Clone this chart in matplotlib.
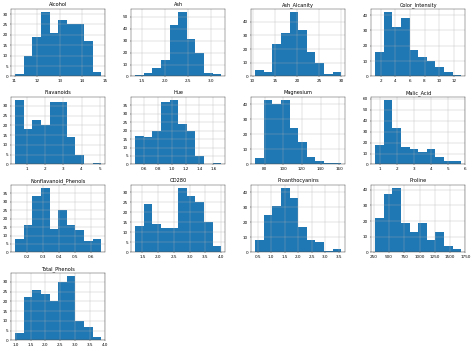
import numpy as np
import matplotlib
matplotlib.use('Agg')
import matplotlib.pyplot as plt

# Wine dataset, 10-bin histograms per feature (min, max, counts)
names = ['Alcohol', 'Ash', 'Ash_Alcanity', 'Color_Intensity',
         'Flavanoids', 'Hue', 'Magnesium', 'Malic_Acid',
         'Nonflavanoid_Phenols', 'OD280', 'Proanthocyanins', 'Proline',
         'Total_Phenols']

mins = [11.03, 1.36, 10.6, 1.28, 0.34, 0.48, 70, 0.74, 0.13, 1.27, 0.41, 278, 0.98]
maxs = [14.83, 3.23, 30.0, 13.0, 5.08, 1.71, 162, 5.80, 0.66, 4.00, 3.58, 1680, 3.88]

counts = [
    [1, 10, 19, 31, 21, 27, 25, 25, 17, 2],
    [1, 3, 7, 14, 43, 54, 31, 20, 3, 2],
    [5, 3, 24, 32, 47, 34, 18, 10, 2, 3],
    [16, 42, 32, 38, 17, 13, 10, 6, 3, 1],
    [33, 18, 23, 20, 32, 32, 14, 5, 0, 1],
    [17, 16, 20, 37, 38, 24, 20, 5, 0, 1],
    [4, 43, 40, 43, 24, 15, 5, 2, 1, 1],
    [18, 59, 33, 16, 14, 11, 14, 7, 3, 3],
    [8, 16, 33, 38, 14, 25, 16, 13, 7, 8],
    [13, 24, 14, 12, 12, 32, 28, 25, 15, 3],
    [8, 25, 31, 43, 36, 17, 8, 7, 1, 2],
    [22, 37, 41, 19, 13, 19, 8, 13, 4, 2],
    [4, 22, 26, 24, 20, 30, 33, 10, 7, 2],
]

fig, axes = plt.subplots(4, 4, figsize=(15.8, 11.7), dpi=30)
fig.subplots_adjust(left=0.023, right=0.982, top=0.975, bottom=0.03,
                    wspace=0.27, hspace=0.3)

for i, ax in enumerate(axes.flat):
    if i >= len(names):
        ax.set_visible(False)
        continue
    edges = np.linspace(mins[i], maxs[i], 11)
    ax.hist(edges[:-1], bins=edges, weights=counts[i], color='#1f77b4')
    pad = 0.05 * (maxs[i] - mins[i])
    ax.set_xlim(mins[i] - pad, maxs[i] + pad)
    ax.grid(True)
    ax.set_title(names[i], fontsize=12)

fig.savefig('out.png', dpi=30)
